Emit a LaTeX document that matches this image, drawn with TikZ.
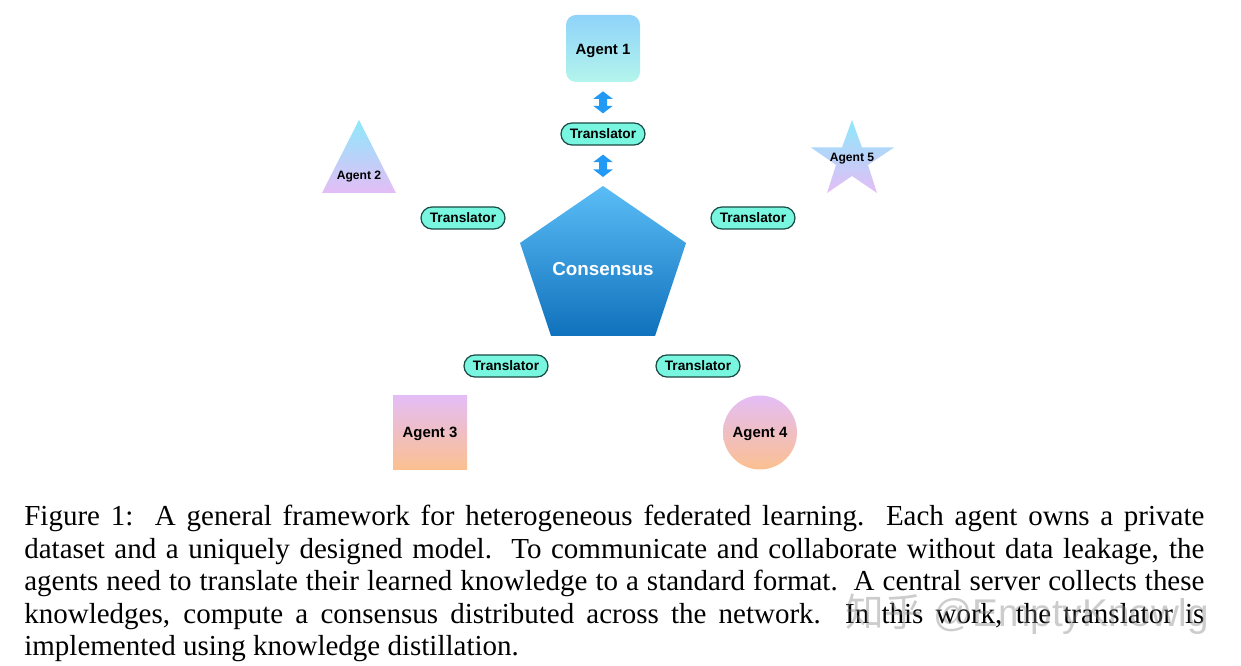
\documentclass[tikz,border=0pt]{standalone}
\usepackage{fontspec}
\setmainfont{Liberation Serif}
\setsansfont{Liberation Sans}
\newfontfamily\cjkfont{Noto Sans CJK SC}
\usetikzlibrary{arrows.meta, shapes.misc}
\definecolor{transfill}{HTML}{78F6E0}
\definecolor{transline}{HTML}{1A4A44}
\definecolor{linkblue}{HTML}{2199F5}
\definecolor{skyblue}{HTML}{8FD3FA}
\definecolor{mint}{HTML}{B4F5EC}
\definecolor{cyanish}{HTML}{8EE8FB}
\definecolor{lilac}{HTML}{E4BDF6}
\definecolor{peach}{HTML}{FBC090}
\definecolor{constop}{HTML}{5BBDF6}
\definecolor{consbot}{HTML}{1071BC}
\tikzstyle{translator} = [rounded rectangle, draw=transline, fill=transfill, line width=0.7pt, minimum width=1.68cm, minimum height=0.44cm, inner sep=0pt, text height=5.6pt, text depth=0pt, font=\sffamily\bfseries\fontsize{7.8}{9}\selectfont]
\tikzstyle{agent} = [inner sep=0pt, text height=7pt, text depth=0pt, font=\sffamily\bfseries\fontsize{8.5}{10}\selectfont]
\tikzstyle{small agent} = [inner sep=0pt, text height=5pt, text depth=0pt, font=\sffamily\bfseries\fontsize{6.9}{8}\selectfont]
\tikzstyle{link} = [{Triangle[length=1.5mm,width=3.8mm]}-{Triangle[length=1.5mm,width=3.8mm]}, linkblue, line width=1.6mm, shorten >=1.8mm, shorten <=1.8mm]

\begin{document}
\begin{tikzpicture}
\useasboundingbox (0,0) rectangle (24.82,13.32);
% agents
\node[agent, rounded corners=0.2cm, top color=skyblue, bottom color=mint, minimum width=1.48cm, minimum height=1.34cm] (agent1) at (12.06,12.35) {Agent 1};
\path[top color=cyanish, bottom color=lilac] (7.18,10.92)--(7.92,9.46)--(6.44,9.46)--cycle;
\node[small agent] (agent2) at (7.18,9.81) {Agent 2};
\node[agent, text height=6pt, top color=lilac, bottom color=peach, minimum size=1.48cm] (agent3) at (8.6,4.67) {Agent 3};
\node[agent, text height=6pt, circle, top color=lilac, bottom color=peach, minimum size=1.48cm] (agent4) at (15.2,4.67) {Agent 4};
\path[top color=cyanish, bottom color=lilac] (17.04,10.92)--(17.24,10.37)--(17.88,10.37)--(17.36,10.02)--(17.54,9.46)--(17.04,9.80)--(16.54,9.46)--(16.72,10.02)--(16.22,10.37)--(16.84,10.37)--cycle;
\node[small agent] (agent5) at (17.04,10.18) {Agent 5};
% consensus
\path[top color=constop, bottom color=consbot] (12.06,9.6)--(13.72,8.46)--(13.1,6.6)--(11.02,6.6)--(10.4,8.46)--cycle;
\coordinate (constip) at (12.06,9.6);
\node[inner sep=0pt, white, font=\sffamily\bfseries\fontsize{10.7}{12}\selectfont] (consensus) at (12.06,7.94) {Consensus};
% translators
\node[translator] (trans1) at (12.06,10.64) {Translator};
\node[translator] (trans2) at (9.26,8.96) {Translator};
\node[translator] (trans5) at (15.06,8.96) {Translator};
\node[translator] (trans3) at (10.12,6.0) {Translator};
\node[translator] (trans4) at (13.96,6.0) {Translator};
\draw[link] (agent1)--(trans1);
\draw[link] (trans1)--(constip);
% caption
\node[anchor=north west, inner sep=0pt, text width=23.6cm, align=justify, font=\fontsize{16.5}{18.45}\selectfont] (caption) at (0.48,3.22) {Figure 1:\ \ A general framework for heterogeneous federated learning.\ \ Each agent owns a private\linebreak
dataset and a uniquely designed model.\ \ To communicate and collaborate without data leakage, the\linebreak
agents need to translate their learned knowledge to a standard format.\ \ A central server collects these\linebreak
knowledges, compute a consensus distributed across the network.\ \ In this work, the translator is\linebreak
implemented using knowledge distillation.};
\node[anchor=west, inner sep=0pt, text=gray, opacity=0.4, font=\sffamily\fontsize{22}{23}\selectfont] (mark) at (16.9,1.04) {{\cjkfont 知乎} @EmptyKnowlg};
\end{tikzpicture}
\end{document}
